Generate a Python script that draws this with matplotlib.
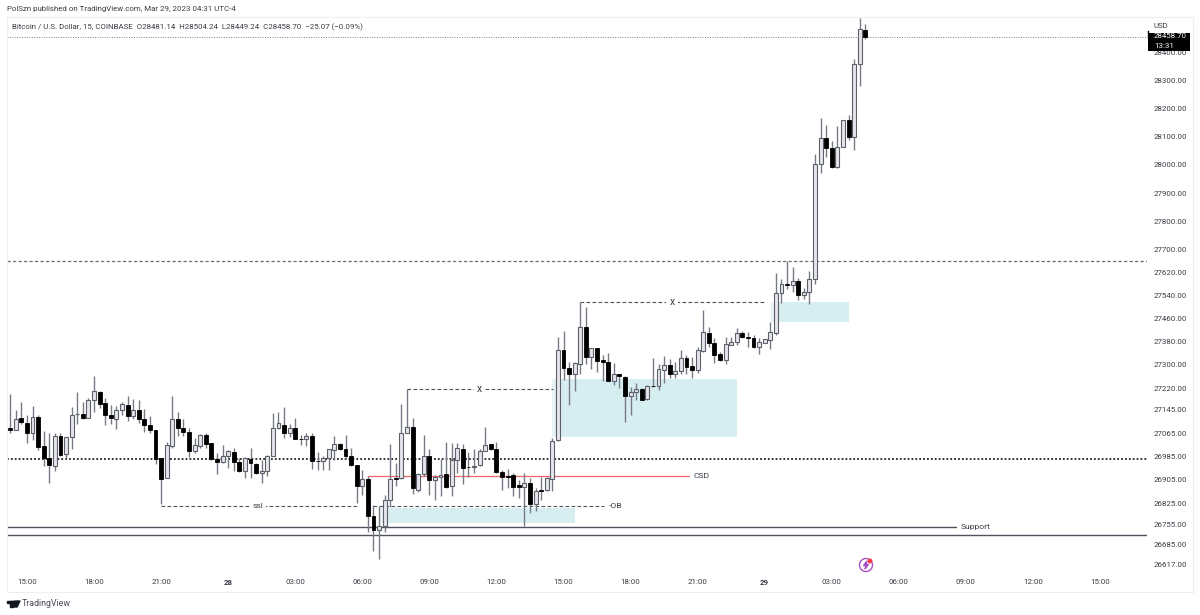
# -*- coding: utf-8 -*-
import pandas as pd
import matplotlib
matplotlib.use('Agg')
import matplotlib.pyplot as plt
from matplotlib.patches import Rectangle, Circle, Polygon

plt.rcParams['font.family'] = ['Roboto', 'DejaVu Sans']

#%% candles, 15 min BTCUSD
opens = [27084, 27076, 27118, 27101, 27064, 27119, 27021, 26979, 26953, 27056, 26993, 27053, 27129, 27129, 27118, 27178,
         27207, 27167, 27126, 27113, 27143, 27163, 27122, 27144, 27112, 27094, 27076, 26979, 26910, 27021, 27112, 27084,
         27070, 27002, 27020, 27058, 27030, 26978, 26967, 26987, 27001, 26967, 26935, 26978, 26960, 26930, 26936, 26987,
         27081, 27094, 27067, 27084, 27046, 27045, 27055, 26971, 26969, 26980, 27007, 27026, 27009, 26988, 26957, 26883,
         26909, 26783, 26734, 26750, 26835, 26912, 26911, 27064, 27086, 26872, 26924, 26988, 26905, 26916, 26925, 26885,
         26974, 27012, 26949, 26949, 26955, 27004, 27026, 27009, 26933, 26917, 26923, 26887, 26881, 26893, 26824, 26870,
         26871, 26909, 27043, 27351, 27290, 27270, 27304, 27432, 27328, 27357, 27315, 27311, 27244, 27267, 27258, 27192,
         27207, 27217, 27181, 27228, 27227, 27282, 27299, 27270, 27278, 27322, 27296, 27282, 27349, 27412, 27374, 27336,
         27316, 27370, 27378, 27409, 27398, 27392, 27362, 27377, 27387, 27410, 27549, 27582, 27579, 27590, 27542, 27553,
         27598, 28002, 28096, 28061, 27992, 28064, 28161, 28101, 28360, 28481.14]
highs = [27198, 27146, 27172, 27126, 27158, 27126, 27072, 27064, 27064, 27067, 27053, 27155, 27207, 27171, 27186, 27262,
         27209, 27186, 27163, 27158, 27171, 27194, 27183, 27180, 27149, 27124, 27076, 26979, 27036, 27194, 27138, 27112,
         27081, 27047, 27062, 27064, 27030, 26998, 27023, 27007, 27015, 26981, 26984, 27015, 26962, 26973, 26989, 27135,
         27137, 27155, 27097, 27118, 27060, 27066, 27066, 26999, 26988, 27012, 27054, 27031, 27058, 27014, 26957, 26940,
         26917, 26820, 26817, 26855, 27029, 26963, 27166, 27216, 27117, 26929, 27058, 27012, 26923, 26977, 27036, 27031,
         27031, 27029, 26999, 27009, 27009, 27085, 27028, 27034, 26940, 26942, 26929, 26906, 26929, 26912, 26877, 26914,
         26915, 27048, 27398, 27418, 27311, 27311, 27519, 27500, 27360, 27359, 27334, 27340, 27308, 27270, 27261, 27224,
         27238, 27220, 27229, 27322, 27302, 27330, 27320, 27311, 27351, 27334, 27328, 27363, 27490, 27430, 27392, 27345,
         27398, 27398, 27427, 27418, 27415, 27403, 27392, 27389, 27447, 27621, 27600, 27663, 27639, 27603, 27568, 27627,
         28038, 28167, 28141, 28085, 28138, 28161, 28179, 28380, 28525, 28504.24]
lows = [27064, 27076, 27097, 27032, 27040, 27007, 26953, 26894, 26936, 26987, 26979, 27010, 27095, 27114, 27117, 27137,
        27152, 27093, 27097, 27078, 27126, 27106, 27114, 27101, 27069, 27064, 26959, 26822, 26910, 27015, 27055, 27055,
        26984, 26998, 27013, 27015, 26973, 26924, 26962, 26945, 26936, 26932, 26910, 26913, 26924, 26893, 26919, 26985,
        27078, 27048, 27053, 27044, 27023, 27022, 26943, 26940, 26938, 26940, 26974, 27006, 26980, 26954, 26828, 26855,
        26729, 26664, 26638, 26729, 26812, 26885, 26908, 27064, 26858, 26863, 26917, 26855, 26835, 26849, 26878, 26849,
        26927, 26892, 26914, 26929, 26954, 27002, 27006, 26929, 26872, 26878, 26849, 26843, 26749, 26792, 26798, 26835,
        26866, 26866, 27038, 27249, 27163, 27209, 27270, 27302, 27284, 27276, 27244, 27244, 27231, 27221, 27102, 27128,
        27177, 27177, 27180, 27224, 27212, 27238, 27256, 27256, 27270, 27268, 27255, 27272, 27345, 27363, 27305, 27314,
        27302, 27369, 27369, 27394, 27363, 27360, 27337, 27374, 27355, 27403, 27515, 27562, 27553, 27524, 27527, 27512,
        27580, 27973, 28027, 27988, 27990, 28063, 28087, 28053, 28283, 28449.24]
closes = [27076, 27114, 27103, 27064, 27119, 27019, 26979, 26955, 27056, 26990, 27052, 27128, 27132, 27118, 27180, 27209,
          27166, 27126, 27116, 27144, 27165, 27122, 27144, 27112, 27094, 27076, 26976, 26907, 27023, 27112, 27081, 27069,
          27002, 27023, 27058, 27029, 26976, 26967, 26987, 27002, 26967, 26936, 26981, 26962, 26928, 26935, 26987, 27084,
          27099, 27067, 27081, 27046, 27045, 27055, 26969, 26968, 26981, 27009, 27026, 27009, 26988, 26957, 26883, 26909,
          26781, 26735, 26750, 26838, 26909, 26909, 27066, 27086, 26878, 26925, 26986, 26904, 26916, 26923, 26881, 26974,
          27013, 26947, 26948, 26954, 27002, 27025, 27009, 26931, 26914, 26915, 26880, 26881, 26893, 26824, 26867, 26867,
          26911, 27038, 27351, 27289, 27270, 27307, 27432, 27328, 27359, 27313, 27311, 27244, 27267, 27260, 27192, 27207,
          27218, 27180, 27228, 27226, 27285, 27299, 27270, 27280, 27322, 27293, 27282, 27350, 27413, 27374, 27334, 27316,
          27371, 27379, 27409, 27396, 27392, 27362, 27378, 27388, 27413, 27550, 27582, 27579, 27593, 27542, 27554, 27598,
          28003, 28096, 28061, 27992, 28064, 28161, 28101, 28360, 28486, 28458.70]

start = pd.Timestamp('2023-03-27 14:15')
times = pd.date_range(start, periods=len(opens), freq='15min')

price_ticks = [28400, 28300, 28200, 28100, 28000, 27900, 27800, 27700, 27620, 27540, 27460, 27380,
               27300, 27220, 27145, 27065, 26985, 26905, 26825, 26755, 26685, 26617]
time_ticks = ['2023-03-27 15:00', '2023-03-27 18:00', '2023-03-27 21:00', '2023-03-28 00:00',
              '2023-03-28 03:00', '2023-03-28 06:00', '2023-03-28 09:00', '2023-03-28 12:00',
              '2023-03-28 15:00', '2023-03-28 18:00', '2023-03-28 21:00', '2023-03-29 00:00',
              '2023-03-29 03:00', '2023-03-29 06:00', '2023-03-29 09:00', '2023-03-29 12:00',
              '2023-03-29 15:00']
time_labels = ['15:00', '18:00', '21:00', '28', '03:00', '06:00', '09:00', '12:00', '15:00', '18:00',
               '21:00', '29', '03:00', '06:00', '09:00', '12:00', '15:00']

# drawings on the chart
level_dashed = 27662
level_dotted = 26975
support_1 = 26745
support_2 = 26718
csd_price = 26919
ssl_price = 26817
x1_price = 27216
x2_price = 27519
# left idx, right idx, top, bottom
zones = [(66.15, 101.0, 26811, 26758),
         (96.9, 130.0, 27251, 27050),
         (136.1, 150.0, 27517, 27450)]

FS = 5.7
TXT = '#3a3d46'

#%%
W, H = 1200, 615
fig = plt.figure(figsize=(W / 100, H / 100), dpi=100, facecolor='white')
left, right, top, bottom = 7, 1147, 18, 572
ax = fig.add_axes([left / W, 1 - bottom / H, (right - left) / W, (bottom - top) / H])
ax.set_yscale('log')
ax.set_xlim(-0.57, 203.4)
ax.set_ylim(26593, 28526)

idx = list(range(len(opens)))
for a, b, t, u in zones:
    ax.add_patch(Rectangle((a, u), 0.55, t - u, facecolor='#e9f3f5', edgecolor='none', zorder=1))
    ax.add_patch(Rectangle((a + 0.55, u), b - a - 0.55, t - u, facecolor='#d7eef1', edgecolor='none', zorder=1))

# horizontal lines
grey = '#4f525c'
ax.axhline(level_dashed, color='#6b6e78', lw=0.9, ls=(0, (2.6, 1.8)), zorder=2)
ax.axhline(level_dotted, color='#222222', lw=1.3, ls=(0, (1, 1.15)), zorder=2)
ax.axhline(support_2, color=grey, lw=1.0, zorder=2)
ax.axhline(closes[-1], color='#7b7e88', lw=0.7, ls=(0, (1, 1.5)), zorder=2)
ax.plot([-0.57, 169.5], [support_1, support_1], color=grey, lw=1.0, zorder=2)
ax.plot([64, 121.5], [csd_price, csd_price], color='#f0636b', lw=0.9, zorder=2)

dash = (0, (3.3, 2.1))
ax.plot([27, 62.3], [ssl_price, ssl_price], color=grey, lw=0.8, ls=dash, zorder=2)
ax.plot([65, 106.2], [ssl_price, ssl_price], color=grey, lw=0.8, ls=dash, zorder=2)
ax.plot([71, 97.2], [x1_price, x1_price], color=grey, lw=0.8, ls=dash, zorder=2)
ax.plot([102, 135], [x2_price, x2_price], color=grey, lw=0.8, ls=dash, zorder=2)

for i in idx:
    up = closes[i] >= opens[i]
    ax.vlines(i, lows[i], highs[i], color='#787b86', lw=1.0, zorder=3)
    b0, b1 = min(opens[i], closes[i]), max(opens[i], closes[i])
    if up:
        ax.bar(i, b1 - b0, bottom=b0, width=0.7, color='#e4e6ec', edgecolor='#5d606b', linewidth=0.8, zorder=4)
    else:
        ax.bar(i, b1 - b0, bottom=b0, width=0.7, color='black', edgecolor='black', linewidth=0.6, zorder=4)

# small labels sitting on the lines, white behind
lab = dict(fontsize=FS + 0.4, color=TXT, va='center', ha='center', zorder=5,
           bbox=dict(facecolor='white', edgecolor='none', pad=2.2))
ax.text(44.3, ssl_price, 'ssl', **lab)
ax.text(84, x1_price, 'x', **{**lab, 'fontsize': 7.5})
ax.text(118.4, x2_price, 'x', **{**lab, 'fontsize': 7.5})
ax.text(107.2, ssl_price, '-OB', **{**lab, 'ha': 'left'})
ax.text(122.2, csd_price, 'CSD', **{**lab, 'ha': 'left'})
ax.text(170, support_1, 'Support', **{**lab, 'ha': 'left'})

# axes, ticks
for s in ['left', 'right', 'top', 'bottom']:
    ax.spines[s].set_visible(False)
ax.yaxis.tick_right()
ax.minorticks_off()
ax.set_yticks(price_ticks, ['%.2f' % p for p in price_ticks])
ax.tick_params(axis='y', which='both', length=0, pad=5, labelsize=FS, labelcolor=TXT)
tick_pos = [(pd.Timestamp(t) - start) / pd.Timedelta('15min') for t in time_ticks]
ax.set_xticks(tick_pos, time_labels)
ax.tick_params(axis='x', length=0, pad=5, labelsize=FS, labelcolor=TXT)
for t in ax.get_xticklabels():
    if t.get_text() in ('28', '29'):
        t.set_fontweight('bold')

# overlay in pixels for the page furniture
ov = fig.add_axes([0, 0, 1, 1], facecolor='none')
ov.set_xlim(0, W)
ov.set_ylim(H, 0)
ov.axis('off')
ov.plot([7, 1193, 1193, 7, 7], [17, 17, 592, 592, 17], color='#eceef2', lw=0.8)
ov.text(7, 9, 'PolSzn published on TradingView.com, Mar 29, 2023 04:31 UTC-4', fontsize=FS, color=TXT, va='center')
ov.text(12, 27, 'Bitcoin / U.S. Dollar, 15, COINBASE  O28481.14  H28504.24  L28449.24  C28458.70  \u221225.07 (\u22120.09%)',
        fontsize=FS, color=TXT, va='center')
ov.text(1154, 26, 'USD', fontsize=FS, color=TXT, va='center')
ov.add_patch(Rectangle((1147.5, 33), 42.5, 18, facecolor='black', edgecolor='none', zorder=6))
ov.plot([1147.8, 1147.8], [31, 38], color='black', lw=1)
ov.text(1154, 36.5, '%.2f' % closes[-1], fontsize=FS, color='white', va='center', zorder=7)
ov.text(1154, 45.5, '13:31', fontsize=FS, color='white', va='center', zorder=7)

# TradingView logo
ov.add_patch(Rectangle((7, 601), 5, 2, color='#131722'))
ov.add_patch(Rectangle((10, 601), 3, 6, color='#131722'))
ov.add_patch(Circle((14.5, 602.5), 1.4, color='#131722'))
ov.add_patch(Polygon([(16, 601), (20, 601), (17, 607), (14, 607)], color='#131722'))
ov.text(22, 603.5, 'TradingView', fontsize=6.4, color='#4a4d57', va='center')

# lightning icon
ov.add_patch(Circle((866, 565), 6.5, facecolor='white', edgecolor='#a94fc4', lw=1.0, zorder=6))
ov.add_patch(Polygon([(867, 561), (863.5, 565.6), (866, 565.6), (865, 569), (868.5, 564.4), (866, 564.4)],
                     color='#a94fc4', zorder=7))
ov.add_patch(Circle((870, 561), 1.7, color='#f23645', zorder=8))

fig.savefig('out.png', dpi=100)
